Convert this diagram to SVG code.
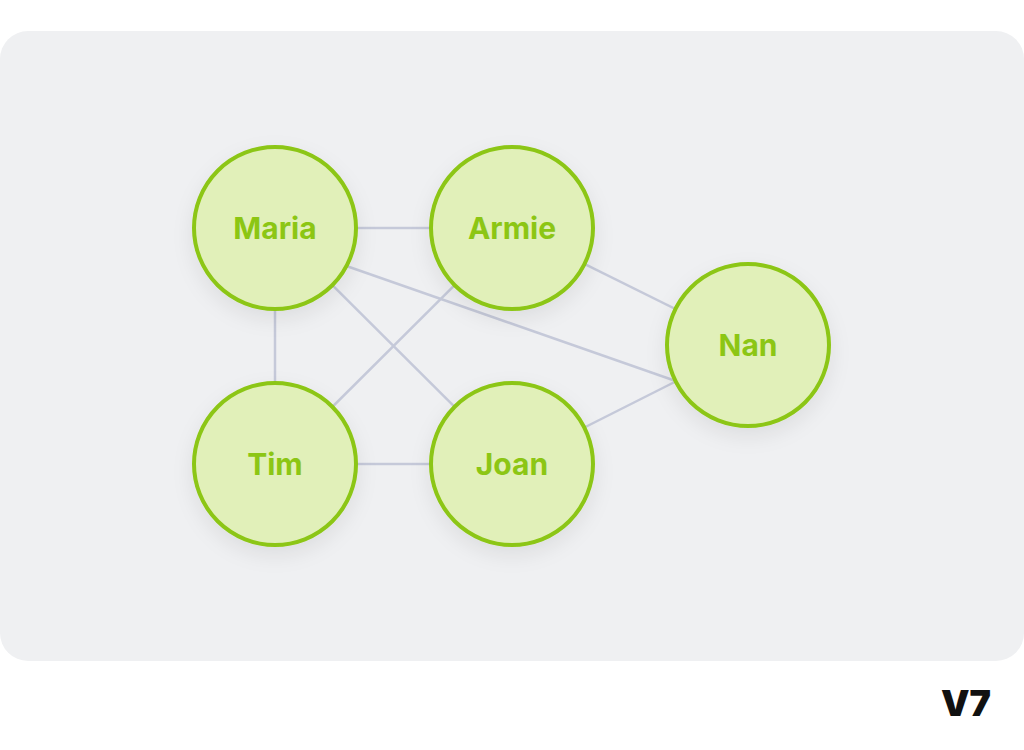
<svg xmlns="http://www.w3.org/2000/svg" width="1024" height="750" viewBox="0 0 1024 750">
<style>
.n{fill:#e1f0b9;stroke:#8cc614;stroke-width:4}
.t{font-family:Inter,"Liberation Sans",sans-serif;font-size:30px;font-weight:700;fill:#8cc614;text-anchor:middle;dominant-baseline:central}
.e line{stroke:#c5c9d9;stroke-width:2.5}
</style>
<defs><filter id="s" x="-30%" y="-30%" width="160%" height="160%"><feDropShadow dx="0" dy="8" stdDeviation="10" flood-color="#000" flood-opacity="0.08"/></filter></defs>
<rect width="1024" height="750" fill="#fff"/>
<rect x="0" y="31" width="1024" height="630" rx="28" fill="#eff0f2"/>
<g class="e">
<line x1="275" y1="228" x2="512" y2="228"/>
<line x1="275" y1="228" x2="275" y2="464"/>
<line x1="275" y1="228" x2="512" y2="464"/>
<line x1="335" y1="262" x2="690" y2="386"/>
<line x1="512" y1="228" x2="275" y2="464"/>
<line x1="512" y1="228" x2="748" y2="345"/>
<line x1="275" y1="464" x2="512" y2="464"/>
<line x1="512" y1="464" x2="748" y2="345"/>
</g>
<g id="maria"><circle class="n" cx="275" cy="228" r="81" filter="url(#s)"/><text class="t" x="275" y="228">Maria</text></g>
<g id="armie"><circle class="n" cx="512" cy="228" r="81" filter="url(#s)"/><text class="t" x="512" y="228">Armie</text></g>
<g id="nan"><circle class="n" cx="748" cy="345" r="81" filter="url(#s)"/><text class="t" x="748" y="345">Nan</text></g>
<g id="tim"><circle class="n" cx="275" cy="464" r="81" filter="url(#s)"/><text class="t" x="275" y="464">Tim</text></g>
<g id="joan"><circle class="n" cx="512" cy="464" r="81" filter="url(#s)"/><text class="t" x="512" y="464">Joan</text></g>
<text x="966" y="716" font-family="Inter,'Liberation Sans',sans-serif" font-size="36" font-weight="900" text-anchor="middle" fill="#111">V7</text>
</svg>
